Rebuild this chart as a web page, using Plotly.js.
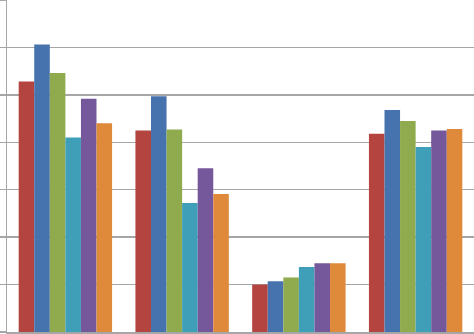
<!DOCTYPE html>
<html>
<head>
<meta charset="utf-8">
<script src="https://cdn.plot.ly/plotly-3.0.1.min.js"></script>
<style>
  html, body { margin: 0; padding: 0; background: #ffffff; }
  #chart { width: 474px; height: 334px; }
</style>
</head>
<body>
<div id="chart"></div>
<script>
// Four categories, six series per category
const categories = ["A", "B", "C", "D"];

const series1 = [5.28, 4.25, 1.00, 4.18];
const series2 = [6.06, 4.97, 1.07, 4.68];
const series3 = [5.46, 4.27, 1.15, 4.45];
const series4 = [4.10, 2.72, 1.37, 3.90];
const series5 = [4.92, 3.45, 1.45, 4.25];
const series6 = [4.40, 2.91, 1.45, 4.28];

const seriesNames = ["Series 1", "Series 2", "Series 3", "Series 4", "Series 5", "Series 6"];
const seriesValues = [series1, series2, series3, series4, series5, series6];
const seriesColors = ["#b4443f", "#4672ad", "#8fab4e", "#3f9fb8", "#74589b", "#df8a3b"];

const traces = seriesValues.map((vals, i) => ({
  type: "bar",
  name: seriesNames[i],
  x: categories,
  y: vals,
  marker: { color: seriesColors[i], line: { width: 0 } },
  hoverinfo: "none"
}));

const layout = {
  width: 474,
  height: 334,
  margin: { l: 7, r: 0, t: 0, b: 2, pad: 0 },
  paper_bgcolor: "#ffffff",
  plot_bgcolor: "#ffffff",
  showlegend: false,
  barmode: "group",
  bargap: 0.2,
  bargroupgap: 0,
  xaxis: {
    range: [-0.5, 3.5],
    showticklabels: false,
    ticks: "",
    showgrid: false,
    showline: true,
    linecolor: "#a6a6a6",
    linewidth: 1.5,
    zeroline: false,
    fixedrange: true
  },
  yaxis: {
    range: [0, 7],
    dtick: 1,
    showticklabels: false,
    ticks: "outside",
    ticklen: 7,
    tickcolor: "#a6a6a6",
    tickwidth: 1.5,
    showgrid: true,
    gridcolor: "#a6a6a6",
    gridwidth: 1.5,
    showline: true,
    linecolor: "#a6a6a6",
    linewidth: 1.5,
    zeroline: false,
    fixedrange: true
  }
};

Plotly.newPlot("chart", traces, layout, { displayModeBar: false, staticPlot: true });
</script>
</body>
</html>
